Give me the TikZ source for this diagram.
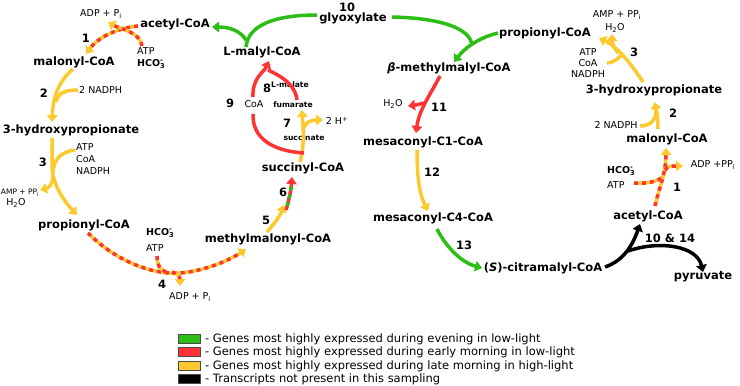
\documentclass[tikz,border=0pt]{standalone}
\usepackage{fontspec}
\setmainfont{DejaVu Sans}
\usetikzlibrary{arrows.meta}
\definecolor{cg}{RGB}{44,190,20}
\definecolor{cr}{RGB}{255,51,51}
\definecolor{cy}{RGB}{252,202,44}
\newcommand{\hcoion}{HCO\rlap{\textsuperscript{-}}\textsubscript{3}}
\tikzset{
  cmp/.style={font=\fontsize{11.5}{12}\selectfont\bfseries, inner sep=0pt},
  num/.style={font=\fontsize{11.5}{12}\selectfont\bfseries, inner sep=0pt},
  lbl/.style={font=\fontsize{9.5}{12}\selectfont, inner sep=0pt},
  lblb/.style={font=\fontsize{9.5}{12}\selectfont\bfseries, inner sep=0pt},
  tiny/.style={font=\fontsize{7.5}{9}\selectfont, inner sep=0pt},
  smb/.style={font=\fontsize{7.6}{9}\selectfont\bfseries, inner sep=0pt},
  leg/.style={font=\fontsize{11.5}{13}\selectfont, inner sep=0pt, anchor=west},
  legbox/.style={draw=black!70, line width=0.8pt, minimum width=22pt, minimum height=9pt, inner sep=0pt},
  ln/.style={line width=3.5pt},
  arr/.style={line width=3.5pt, -{Triangle[length=7pt,width=10.5pt]}},
  G/.style={draw=cg}, R/.style={draw=cr}, Y/.style={draw=cy}, K/.style={draw=black},
  dRY/.style={draw=cy, postaction={draw=cr, -, dash pattern=on 4pt off 4pt, shorten >=7pt}},
  dRYn/.style={draw=cy, postaction={draw=cr, -, dash pattern=on 4pt off 4pt}},
  dRG/.style={draw=cr, postaction={draw=cg, -, dash pattern=on 4pt off 4pt, shorten >=9pt, shorten <=4pt}},
}
\begin{document}
\begin{tikzpicture}[x=1pt,y=-1pt]
\path[use as bounding box] (0,0) rectangle (740,386);

% ---------- left cycle compounds ----------
\node[cmp] (acL) at (175,24) {acetyl-CoA};
\node[cmp] (malL) at (74,62) {malonyl-CoA};
\node[cmp] (hpL) at (71,130) {3-hydroxypropionate};
\node[cmp] (prL) at (84,225) {propionyl-CoA};
\node[cmp] (mmL) at (268,239) {methylmalonyl-CoA};
\node[cmp] (sucL) at (303,168) {succinyl-CoA};
\node[cmp] (lmal) at (262,52) {L-malyl-CoA};
\node[cmp] (glyox) at (353,18) {glyoxylate};

% ---------- right compounds ----------
\node[cmp] (prR) at (545,33) {propionyl-CoA};
\node[cmp] (bmm) at (449,68) {\textit{β}-methylmalyl-CoA};
\node[cmp] (mc1) at (423,142) {mesaconyl-C1-CoA};
\node[cmp] (mc4) at (433,218) {mesaconyl-C4-CoA};
\node[cmp] (cit) at (543,268) {(\textit{S})-citramalyl-CoA};
\node[cmp] (pyr) at (703,277) {pyruvate};
\node[cmp] (acR) at (648,216) {acetyl-CoA};
\node[cmp] (malR) at (667,139) {malonyl-CoA};
\node[cmp] (hpR) at (654,90) {3-hydroxypropionate};

% ---------- numbers ----------
\node[num] (n1L) at (86,38) {1};
\node[num] (n2L) at (44,93) {2};
\node[num] (n3L) at (43,162) {3};
\node[num] (n4) at (162,284) {4};
\node[num] (n5) at (266,220) {5};
\node[num] (n6) at (283,192) {6};
\node[num] (n7) at (287,123) {7};
\node[num] (n8) at (267,88) {8};
\node[num] (n9) at (230,103) {9};
\node[num] (n10) at (347,7) {10};
\node[num] (n11) at (439,107) {11};
\node[num] (n12) at (432,172) {12};
\node[num] (n13) at (464,245) {13};
\node[num] (n1014) at (670,238) {10 \& 14};
\node[num] (n1R) at (677,187) {1};
\node[num] (n2R) at (673,113) {2};
\node[num] (n3R) at (634,52) {3};

% ---------- small labels ----------
\node[lbl] (adp1) at (101,14) {ADP + P\textsubscript{i}};
\node[lbl, anchor=west] (atp1) at (137,51) {ATP};
\node[lblb, anchor=west] (hco1) at (137,64) {\hcoion};
\node[lbl, anchor=west] (nad2L) at (79,90) {2 NADPH};
\node[lbl, anchor=west] (atp3L) at (76,147) {ATP};
\node[lbl, anchor=west] (coa3L) at (76,159) {CoA};
\node[lbl, anchor=west] (nad3L) at (76,171) {NADPH};
\node[tiny] (amp3L) at (20,193) {AMP + PP\textsubscript{i}};
\node[lbl] (h2o3L) at (16,203) {H\textsubscript{2}O};
\node[lblb, anchor=west] (hco4) at (146,233) {\hcoion};
\node[lbl, anchor=west] (atp4) at (146,248) {ATP};
\node[lbl] (adp4) at (190,297) {ADP + P\textsubscript{i}};
\node[smb] (succ) at (304,138) {succinate};
\node[lbl] (hplus) at (337,121) {2 H\textsuperscript{+}};
\node[smb] (fum) at (293,105) {fumarate};
\node[smb] (lmalate) at (290,85) {L-malate};
\node[lbl] (coa9) at (254,104) {CoA};
\node[lbl] (h2o11) at (393,104) {H\textsubscript{2}O};
\node[lblb, anchor=west] (hcoR) at (607,171) {\hcoion};
\node[lbl, anchor=west] (atpR) at (607,185) {ATP};
\node[lbl] (adpR) at (713,165) {ADP +PP\textsubscript{i}};
\node[lbl] (nadR) at (616,125) {2 NADPH};
\node[lbl] (atp3R) at (588,52) {ATP};
\node[lbl] (coa3R) at (588,63) {CoA};
\node[lbl] (nad3R) at (588,74) {NADPH};
\node[lbl] (ampR) at (617,15) {AMP + PP\textsubscript{i}};
\node[lbl] (h2oR) at (615,28) {H\textsubscript{2}O};

% ---------- left cycle arrows ----------
% 1
\draw[arr,dRY] (138,26) .. controls (112,29) and (96,40) .. (86,54);
\draw[arr,dRY] (142,46) .. controls (141,32) and (116,27) .. (108,22);
% 2
\draw[arr,Y] (73,69) .. controls (60,80) and (53,95) .. (52,122);
\draw[ln,Y] (78,90) .. controls (65,90) and (58,93) .. (56,102);
% 3
\draw[arr,Y] (52,138) -- (52,165) .. controls (52,185) and (65,202) .. (77,215);
\draw[ln,Y] (75,150) .. controls (60,152) and (54,160) .. (53,172);
\draw[arr,Y] (53,176) .. controls (53,185) and (48,188) .. (40,190);
% 4
\draw[arr,dRY] (88,233) .. controls (120,265) and (158,275) .. (180,273) .. controls (205,271) and (230,260) .. (246,249);
\draw[ln,dRYn] (157,256) .. controls (157,265) and (160,270) .. (166,272);
\draw[arr,dRY] (172,272) .. controls (178,274) and (180,277) .. (180,286);
% 5, 6
\draw[arr,Y] (267,232) .. controls (274,224) and (280,216) .. (284,205);
\draw[arr,dRG] (286,210) .. controls (289,200) and (291,190) .. (292,177);
% 7
\draw[arr,Y] (300,162) .. controls (305,145) and (303,125) .. (302,110);
\draw[arr,Y] (303,130) .. controls (305,122) and (311,120) .. (323,120);
% 8, 9
\draw[arr,R] (253,97) .. controls (252,78) and (264,72) .. (269,61);
\draw[ln,R] (297,100) .. controls (295,82) and (276,74) .. (268,70);
\draw[ln,R] (253,114) .. controls (252,145) and (285,152) .. (304,153);
% 10 left
\draw[ln,G] (317,15) .. controls (275,15) and (248,25) .. (246,47);
\draw[arr,G] (246,40) .. controls (240,30) and (228,27) .. (212,27);

% ---------- right arrows ----------
% 10 right
\draw[ln,G] (392,17) .. controls (440,18) and (470,28) .. (472,45);
\draw[arr,G] (498,33) .. controls (485,36) and (468,44) .. (454,62);
% 11
\draw[arr,R] (440,76) .. controls (430,95) and (419,110) .. (416,133);
\draw[arr,R] (424,103) .. controls (420,104) and (416,105) .. (408,106);
% 12
\draw[arr,Y] (417,150) .. controls (417,180) and (420,195) .. (428,211);
% 13
\draw[arr,G] (437,229) .. controls (445,245) and (460,262) .. (482,268);
% 10 & 14
\draw[arr,K] (605,267) .. controls (620,262) and (631,250) .. (640,224);
\draw[arr,K] (628,251) .. controls (660,240) and (697,246) .. (703,272);
% 1 right
\draw[arr,dRY] (655,206) .. controls (660,185) and (666,172) .. (666,148);
\draw[ln,dRYn] (634,183) .. controls (645,184) and (658,182) .. (664,176);
\draw[arr,dRY] (665,170) .. controls (668,166) and (672,166) .. (683,166);
% 2 right
\draw[ln,Y] (658,129) .. controls (658,118) and (657,112) .. (656,108);
\draw[arr,Y] (640,126) .. controls (652,126) and (657,118) .. (655,102);
% 3 right
\draw[arr,Y] (643,82) .. controls (630,62) and (616,46) .. (599,38);
\draw[ln,Y] (607,63) .. controls (615,62) and (620,58) .. (622,53);
\draw[arr,Y] (618,53) .. controls (614,48) and (612,43) .. (612,34);

% ---------- legend ----------
\node[legbox, fill=cg] (bg) at (189,339) {};
\node[legbox, fill=cr] (br) at (189,352) {};
\node[legbox, fill=cy] (by) at (189,366) {};
\node[legbox, fill=black] (bk) at (189,379) {};
\node[leg] (tg) at (205,339) {- Genes most highly expressed during evening in low-light};
\node[leg] (tr) at (205,352) {- Genes most highly expressed during early morning in low-light};
\node[leg] (ty) at (205,366) {- Genes most highly expressed during late morning in high-light};
\node[leg] (tk) at (205,379) {- Transcripts not present in this sampling};
\end{tikzpicture}
\end{document}
